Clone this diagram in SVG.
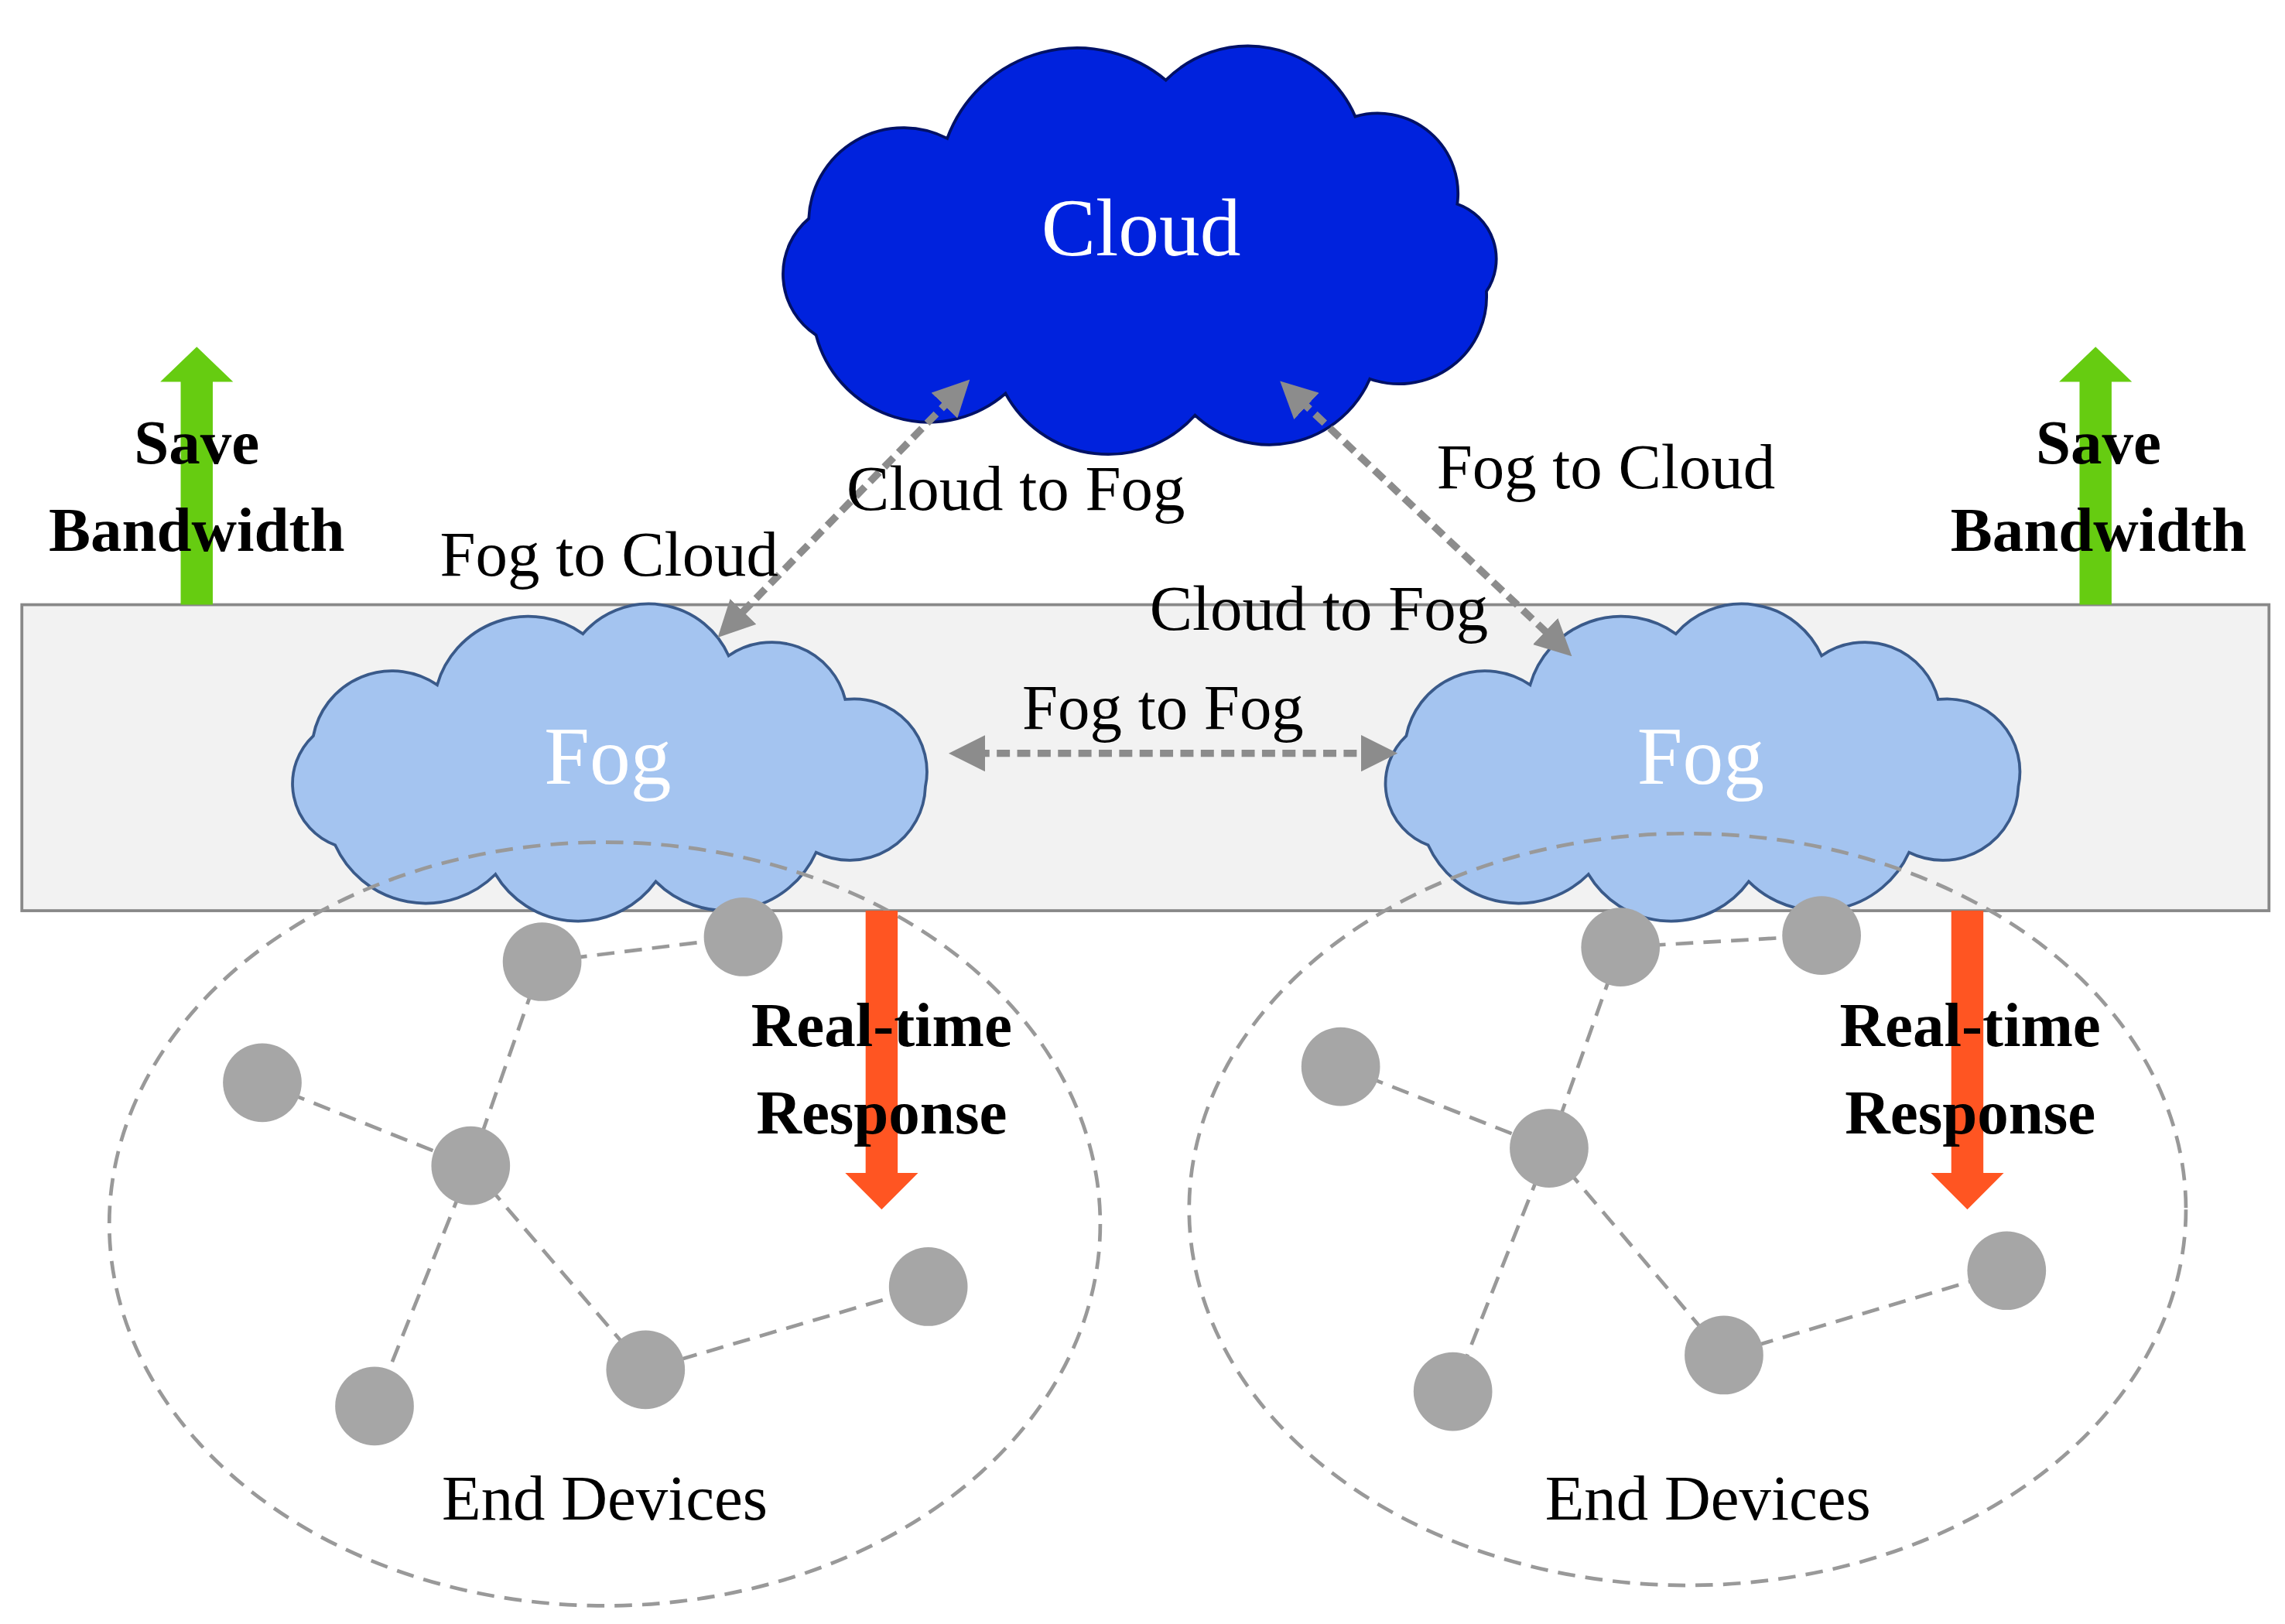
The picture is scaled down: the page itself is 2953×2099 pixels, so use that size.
<svg xmlns="http://www.w3.org/2000/svg" width="2953" height="2099" viewBox="0 0 2953 2099">
<defs>
<style>
.t{font-family:"Liberation Serif",serif;font-size:44px;text-anchor:middle;fill:#000}
.b{font-weight:bold;font-size:43px}
.w{fill:#fff;font-size:56px}
.n{fill:#a6a6a6}
.e{stroke:#999;stroke-width:2.5;stroke-dasharray:12 7;fill:none}
.d{stroke:#8c8c8c;stroke-width:5;stroke-dasharray:9 5;fill:none;marker-start:url(#a);marker-end:url(#a)}
.fog{fill:#a4c4f0;stroke:#3a5a8a;stroke-width:2}
</style>
<marker id="a" viewBox="0 0 10 10" refX="8" refY="5" markerWidth="5" markerHeight="5" orient="auto-start-reverse"><path d="M0,0 L10,5 L0,10 Z" fill="#8c8c8c"/></marker>
</defs>
<rect width="2953" height="2099" fill="#fff"/>
<g transform="scale(1.8833)">
<g id="band"><rect x="15" y="415" width="1542" height="210" fill="#f2f2f2" stroke="#888" stroke-width="2"/></g>
<g id="cloud">
<path d="M 560,230 A 50 50 0 0 1 555,150 A 65 65 0 0 1 650,95 A 95 95 0 0 1 800,55 A 80 80 0 0 1 930,80 A 55 55 0 0 1 1000,140 A 40 40 0 0 1 1020,200 A 60 60 0 0 1 940,260 A 75 75 0 0 1 820,285 A 80 80 0 0 1 690,270 A 80 80 0 0 1 560,230 Z" fill="#0022dd" stroke="#001166" stroke-width="2"/>
<text class="t w" x="783" y="175">Cloud</text></g>
<g id="fog1"><path class="fog" d="M 230,580 A 45 45 0 0 1 215,505 A 55 55 0 0 1 300,470 A 65 65 0 0 1 400,435 A 60 60 0 0 1 500,450 A 52 52 0 0 1 580,480 A 50 50 0 0 1 635,540 A 52 52 0 0 1 560,585 A 68 68 0 0 1 450,605 A 66 66 0 0 1 340,600 A 68 68 0 0 1 230,580 Z"/>
<text class="t w" x="417" y="538">Fog</text></g>
<g id="fog2" transform="translate(750,0)"><path class="fog" d="M 230,580 A 45 45 0 0 1 215,505 A 55 55 0 0 1 300,470 A 65 65 0 0 1 400,435 A 60 60 0 0 1 500,450 A 52 52 0 0 1 580,480 A 50 50 0 0 1 635,540 A 52 52 0 0 1 560,585 A 68 68 0 0 1 450,605 A 66 66 0 0 1 340,600 A 68 68 0 0 1 230,580 Z"/>
<text class="t w" x="417" y="538">Fog</text></g>
<g id="devices1">
<ellipse class="e" cx="415" cy="840" rx="340" ry="262"/>
<path class="e" d="M372,660 L510,643 M372,660 L323,800 M180,743 L323,800 M323,800 L257,965 M323,800 L443,940 L637,883"/>
<circle class="n" cx="372" cy="660" r="27"/><circle class="n" cx="510" cy="643" r="27"/><circle class="n" cx="180" cy="743" r="27"/><circle class="n" cx="323" cy="800" r="27"/><circle class="n" cx="637" cy="883" r="27"/><circle class="n" cx="443" cy="940" r="27"/><circle class="n" cx="257" cy="965" r="27"/>
<text class="t" x="415" y="1043">End Devices</text></g>
<g id="devices2">
<ellipse class="e" cx="1158" cy="830" rx="342" ry="258"/>
<path class="e" d="M1112,650 L1250,642 M1112,650 L1063,788 M920,732 L1063,788 M1063,788 L997,955 M1063,788 L1183,930 L1377,872"/>
<circle class="n" cx="1112" cy="650" r="27"/><circle class="n" cx="1250" cy="642" r="27"/><circle class="n" cx="920" cy="732" r="27"/><circle class="n" cx="1063" cy="788" r="27"/><circle class="n" cx="1377" cy="872" r="27"/><circle class="n" cx="1183" cy="930" r="27"/><circle class="n" cx="997" cy="955" r="27"/>
<text class="t" x="1172" y="1043">End Devices</text></g>
<g id="arrows">
<path d="M124,415 L124,262 L110,262 L135,238 L160,262 L146,262 L146,415 Z" fill="#66cc11"/>
<path d="M1427,415 L1427,262 L1413,262 L1438,238 L1463,262 L1449,262 L1449,415 Z" fill="#66cc11"/>
<path d="M594,625 L594,805 L580,805 L605,830 L630,805 L616,805 L616,625 Z" fill="#ff5522"/>
<path d="M1339,625 L1339,805 L1325,805 L1350,830 L1375,805 L1361,805 L1361,625 Z" fill="#ff5522"/>
</g>
<g id="connectors">
<line class="d" x1="662" y1="264" x2="496" y2="434"/>
<line class="d" x1="882" y1="265" x2="1075" y2="447"/>
<line class="d" x1="656" y1="517" x2="954" y2="517"/>
</g>
<g id="labels">
<text class="t b" x="135" y="318">Save</text><text class="t b" x="135" y="378">Bandwidth</text>
<text class="t b" x="1440" y="318">Save</text><text class="t b" x="1440" y="378">Bandwidth</text>
<text class="t b" x="605" y="718">Real-time</text><text class="t b" x="605" y="778">Response</text>
<text class="t b" x="1352" y="718">Real-time</text><text class="t b" x="1352" y="778">Response</text>
<text class="t" x="697" y="350">Cloud to Fog</text>
<text class="t" x="418" y="395">Fog to Cloud</text>
<text class="t" x="1102" y="335">Fog to Cloud</text>
<text class="t" x="905" y="432">Cloud to Fog</text>
<text class="t" x="798" y="500">Fog to Fog</text>
</g>
</g>
</svg>
